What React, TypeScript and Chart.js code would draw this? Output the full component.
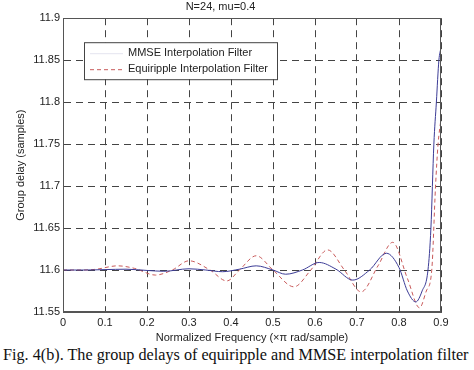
import React, { useEffect, useRef } from "react";
import { Chart, registerables } from "chart.js";

Chart.register(...registerables);

const titleText = "N=24, mu=0.4";
const xTitle = "Normalized Frequency (\u00d7\u03c0 rad/sample)";
const yTitle = "Group delay (samples)";
const caption = "Fig. 4(b). The group delays of equiripple and MMSE interpolation filter";

const xTicks = [0, 0.1, 0.2, 0.3, 0.4, 0.5, 0.6, 0.7, 0.8, 0.9];
const xTickLabels = ["0", "0.1", "0.2", "0.3", "0.4", "0.5", "0.6", "0.7", "0.8", "0.9"];
const yTicks = [11.55, 11.6, 11.65, 11.7, 11.75, 11.8, 11.85, 11.9];
const yTickLabels = ["11.55", "11.6", "11.65", "11.7", "11.75", "11.8", "11.85", "11.9"];

const mmseLabel = "MMSE Interpolation Filter";
const mmseX = [0, 0.05, 0.1, 0.15, 0.2, 0.24, 0.3, 0.34, 0.38, 0.42, 0.46, 0.5, 0.53, 0.57, 0.61, 0.65, 0.69, 0.73, 0.77, 0.8, 0.82, 0.84, 0.855, 0.869, 0.876, 0.883, 0.889, 0.895, 0.9];
const mmseY = [11.6, 11.6, 11.6005, 11.601, 11.5995, 11.5985, 11.6015, 11.6, 11.598, 11.601, 11.605, 11.6, 11.595, 11.6, 11.609, 11.601, 11.588, 11.6, 11.62, 11.603, 11.575, 11.562, 11.575, 11.6, 11.65, 11.75, 11.8, 11.85, 11.865];

const eqLabel = "Equiripple Interpolation Filter";
const eqX = [0, 0.05, 0.08, 0.13, 0.17, 0.22, 0.26, 0.3, 0.35, 0.39, 0.42, 0.46, 0.5, 0.55, 0.59, 0.63, 0.67, 0.71, 0.75, 0.785, 0.82, 0.849, 0.865, 0.878, 0.887, 0.893, 0.9];
const eqY = [11.6, 11.6, 11.601, 11.605, 11.602, 11.594, 11.6, 11.611, 11.6, 11.587, 11.6, 11.617, 11.6, 11.58, 11.6, 11.624, 11.6, 11.574, 11.605, 11.633, 11.59, 11.555, 11.575, 11.6, 11.7, 11.75, 11.78];

const FONT = "'Liberation Sans', Arial, sans-serif";
const blue = "#3c3c96";
const red = "#c85a5a";

const legendBox = {
  id: "legendBox",
  afterDraw(chart: any) {
    const { ctx, chartArea } = chart;
    ctx.save();
    ctx.strokeStyle = "#555";
    ctx.lineWidth = 1;
    ctx.setLineDash([]);
    ctx.strokeRect(Math.round(chartArea.left) + 0.5, Math.round(chartArea.top) + 0.5,
      Math.round(chartArea.right - chartArea.left) - 1, Math.round(chartArea.bottom - chartArea.top) - 1);
    const x = chartArea.left + 21;
    const y = chartArea.top + 24;
    const w = 193;
    const h = 37;
    ctx.fillStyle = "#fff";
    ctx.fillRect(x, y, w, h);
    ctx.strokeStyle = "#444";
    ctx.strokeRect(x + 0.5, y + 0.5, w, h);
    const ds = chart.data.datasets;
    ctx.font = "11px " + FONT;
    ctx.textBaseline = "middle";
    ctx.textAlign = "left";
    const rows = [y + 11, y + 27];
    ds.forEach((d: any, i: number) => {
      ctx.beginPath();
      ctx.strokeStyle = i === 0 ? "#e4e4ef" : red;
      ctx.setLineDash(i === 0 ? [] : [4, 3]);
      ctx.moveTo(x + 6, rows[i] + 0.5);
      ctx.lineTo(x + 39, rows[i] + 0.5);
      ctx.stroke();
      ctx.setLineDash([]);
      ctx.fillStyle = "#222";
      ctx.fillText(d.label, x + 44, rows[i]);
    });
    ctx.restore();
  },
};

export default function App() {
  const ref = useRef<HTMLCanvasElement>(null);
  useEffect(() => {
    if (!ref.current) return;
    const chart = new Chart(ref.current, {
      type: "line",
      data: {
        datasets: [
          {
            label: mmseLabel,
            data: mmseX.map((x, i) => ({ x, y: mmseY[i] })),
            borderColor: blue,
            borderWidth: 1,
            pointRadius: 0,
            cubicInterpolationMode: "monotone",
            fill: false,
          },
          {
            label: eqLabel,
            data: eqX.map((x, i) => ({ x, y: eqY[i] })),
            borderColor: red,
            borderWidth: 1,
            borderDash: [4, 3],
            pointRadius: 0,
            cubicInterpolationMode: "monotone",
            fill: false,
          },
        ],
      },
      options: {
        animation: false,
        responsive: false,
        layout: { padding: { left: 0, right: 33, top: 0, bottom: 0 } },
        plugins: {
          legend: { display: false },
          tooltip: { enabled: false },
          title: {
            display: true,
            text: titleText,
            color: "#222",
            font: { family: FONT, size: 11, weight: "normal" },
            padding: { top: 0, bottom: 5 },
          },
        },
        scales: {
          x: {
            type: "linear",
            min: 0,
            max: 0.9,
            afterBuildTicks: (s: any) => { s.ticks = xTicks.map((v) => ({ value: v })); },
            afterFit: (s: any) => { s.height = 33; },
            ticks: {
              autoSkip: false,
              maxRotation: 0,
              padding: 4,
              color: "#222",
              font: { family: FONT, size: 11 },
              callback: (v: any) => { const i = xTicks.findIndex((t) => Math.abs(t - v) < 1e-9); return i >= 0 ? xTickLabels[i] : ""; },
            },
            grid: { color: "#444", lineWidth: 1, drawTicks: false },
            border: { display: true, color: "#555", dash: [7, 5] },
            title: { display: true, text: xTitle, color: "#222", font: { family: FONT, size: 11 }, padding: { top: 0, bottom: 0 } },
          },
          y: {
            type: "linear",
            min: 11.55,
            max: 11.9,
            afterBuildTicks: (s: any) => { s.ticks = yTicks.map((v) => ({ value: v })); },
            afterFit: (s: any) => { s.width = 63; },
            ticks: {
              autoSkip: false,
              padding: 3,
              color: "#222",
              font: { family: FONT, size: 11 },
              callback: (v: any) => { const i = yTicks.findIndex((t) => Math.abs(t - v) < 1e-9); return i >= 0 ? yTickLabels[i] : ""; },
            },
            grid: { color: "#444", lineWidth: 1, drawTicks: false },
            border: { display: true, color: "#555", dash: [7, 5] },
            title: { display: true, text: yTitle, color: "#222", font: { family: FONT, size: 11 }, padding: { top: 14, bottom: 0 } },
          },
        },
      },
      plugins: [legendBox],
    } as any);
    return () => chart.destroy();
  }, []);
  return (
    <div style={{ position: "absolute", left: 0, top: 0, width: 474, height: 370, overflow: "hidden", background: "#fff" }}>
      <canvas ref={ref} width={474} height={345} style={{ position: "absolute", left: 0, top: 0 }} />
      <div
        style={{
          position: "absolute",
          left: 3,
          top: 346,
          fontFamily: "'Liberation Serif', 'Times New Roman', serif",
          fontSize: 16.2,
          lineHeight: "18px",
          whiteSpace: "nowrap",
          color: "#111",
        }}
      >
        {caption}
      </div>
    </div>
  );
}
